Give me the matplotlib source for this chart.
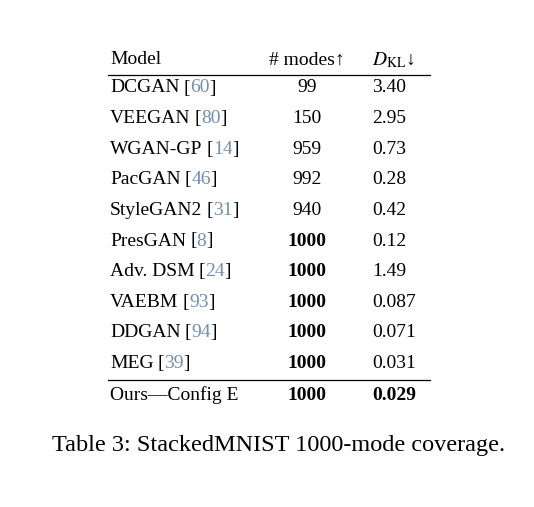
import matplotlib
matplotlib.use("Agg")
import matplotlib.pyplot as plt

# table contents
models = ["DCGAN", "VEEGAN", "WGAN-GP", "PacGAN", "StyleGAN2", "PresGAN",
          "Adv. DSM", "VAEBM", "DDGAN", "MEG", "Ours\u2014Config E"]
refs = ["60", "80", "14", "46", "31", "8", "24", "93", "94", "39", None]
modes = ["99", "150", "959", "992", "940", "1000", "1000", "1000", "1000", "1000", "1000"]
dkl = ["3.40", "2.95", "0.73", "0.28", "0.42", "0.12", "1.49", "0.087", "0.071", "0.031", "0.029"]
caption = "Table 3: StackedMNIST 1000-mode coverage."

plt.rcParams['font.family'] = ['Liberation Serif', 'DejaVu Serif']
plt.rcParams['mathtext.fontset'] = 'stix'

fig = plt.figure(figsize=(5.34, 5.07), dpi=100)
ax = fig.add_axes([0, 0, 1, 1])
ax.set_xlim(0, 534)
ax.set_ylim(507, 0)
ax.axis("off")
fs = 14
cite_col = "#6f8fb3"
r = fig.canvas.get_renderer()

ax.text(110, 60, "Model", fontsize=fs, va="center")
ax.text(307, 60, "# modes\u2191", fontsize=fs, va="center", ha="center")
ax.text(372, 60, r"$D_{\mathrm{KL}}$" + "\u2193", fontsize=fs, va="center")
ax.plot([108, 430], [75, 75], color="black", lw=0.9)
ax.plot([108, 430], [380, 380], color="black", lw=0.9)

ys = [88 + 30.6 * k for k in range(10)] + [395]
for i, m in enumerate(models):
    y = ys[i]
    t = ax.text(110, y, m, fontsize=fs, va="center")
    if refs[i]:
        bb = t.get_window_extent(r)
        x0 = bb.x1 + 4
        t1 = ax.text(x0, y, "[", fontsize=fs, va="center")
        x1 = t1.get_window_extent(r).x1
        t2 = ax.text(x1, y, refs[i], fontsize=fs, va="center", color=cite_col)
        x2 = t2.get_window_extent(r).x1
        ax.text(x2, y, "]", fontsize=fs, va="center")
    bold_mode = modes[i] == "1000"
    ax.text(307, y, modes[i], fontsize=fs, va="center", ha="center",
            fontweight="bold" if bold_mode else "normal")
    ax.text(372, y, dkl[i], fontsize=fs, va="center",
            fontweight="bold" if i == len(models) - 1 else "normal")

ax.text(279, 446, caption, fontsize=17.5, va="center", ha="center")

fig.savefig("out.png", dpi=100)
